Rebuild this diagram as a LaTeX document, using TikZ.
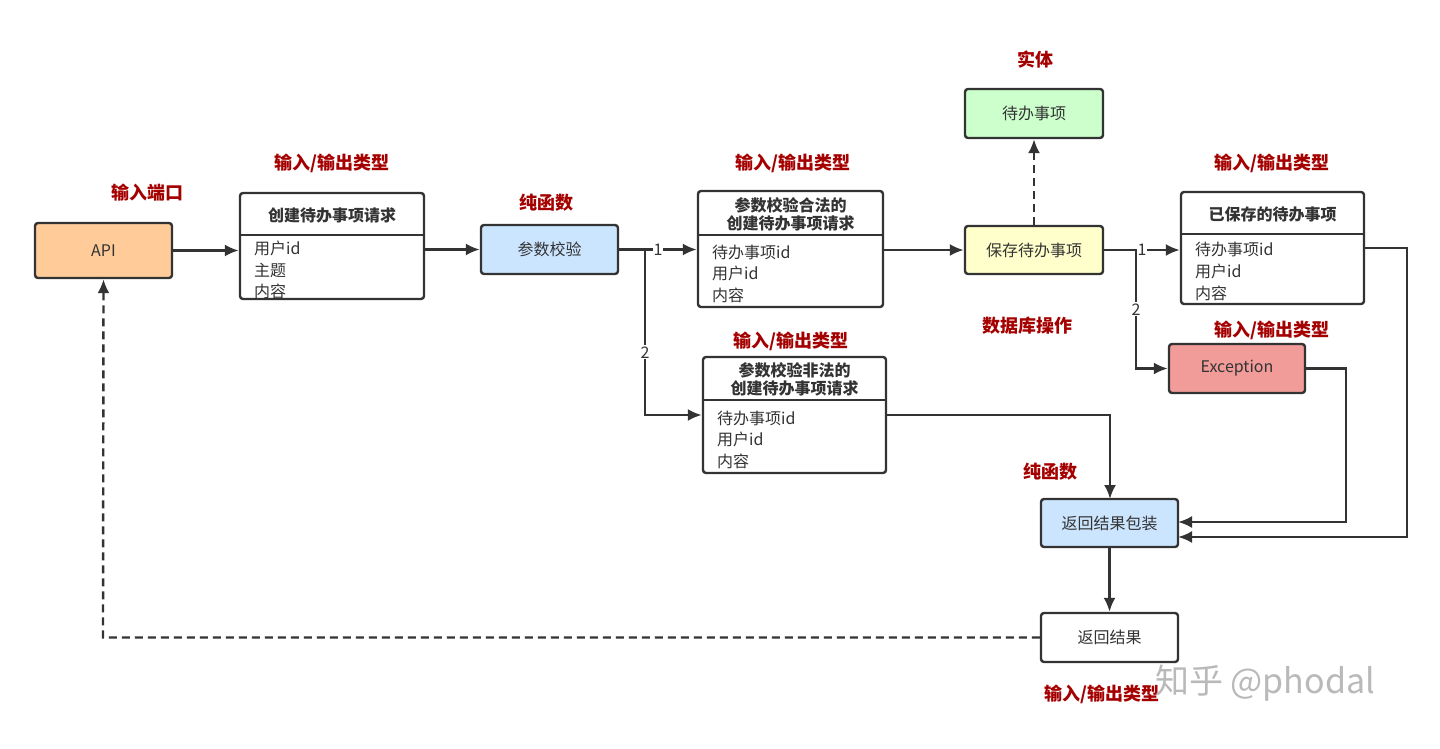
\documentclass[tikz,border=0pt]{standalone}
\usepackage{fontspec}
\setmainfont{Noto Sans CJK SC}
\usetikzlibrary{arrows.meta}
\definecolor{lab}{HTML}{A50000}
\definecolor{ln}{HTML}{333333}
\definecolor{corange}{HTML}{FFCC99}
\definecolor{cblue}{HTML}{CCE5FF}
\definecolor{cyellow}{HTML}{FFFFCC}
\definecolor{cgreen}{HTML}{CCFFCC}
\definecolor{cred}{HTML}{F19C99}
\begin{document}
\begin{tikzpicture}[x=1pt,y=-1pt,
 box/.style={draw=ln,line width=2.4pt,rounded corners=3pt,inner sep=0pt},
 t/.style={font=\fontsize{16}{19}\selectfont,text=ln},
 fld/.style={t,anchor=west,inner sep=0pt},
 lbl/.style={font=\fontsize{18}{21}\selectfont\bfseries,text=lab},
 arr/.style={draw=ln,line width=2.4pt,-{Latex[length=14pt,width=12pt]}},
 num/.style={font=\fontsize{16}{19}\selectfont,text=ln,fill=white,inner sep=1pt}]
\useasboundingbox (0,0) rectangle (1440,749);
% API
\node[box,fill=corange,minimum width=137pt,minimum height=55pt,t] (api) at (103.5,250.5) {API};
\node[lbl] at (147,193) {输入端口};
% box1
\node[box,fill=white,minimum width=184pt,minimum height=106pt] (b1) at (332,246) {};
\draw[ln,line width=2.4pt] (240,235) -- (424,235);
\node[t,font=\fontsize{16}{19}\selectfont\bfseries] at (332,215) {创建待办事项请求};
\node[fld] at (254,248) {用户id};
\node[fld] at (254,270) {主题};
\node[fld] at (254,291) {内容};
\node[lbl] at (332,163) {输入/输出类型};
% check
\node[box,fill=cblue,minimum width=137pt,minimum height=49pt,t] (chk) at (549.5,249.5) {参数校验};
\node[lbl] at (546,203) {纯函数};
% box2
\node[box,fill=white,minimum width=185pt,minimum height=116pt] (b2) at (790.5,249) {};
\draw[ln,line width=2.4pt] (698,235) -- (883,235);
\node[t,font=\fontsize{16}{18}\selectfont\bfseries,align=center] at (790.5,214) {参数校验合法的\\创建待办事项请求};
\node[fld] at (712,252) {待办事项id};
\node[fld] at (712,273) {用户id};
\node[fld] at (712,295) {内容};
\node[lbl] at (793,163) {输入/输出类型};
% box3
\node[box,fill=white,minimum width=183pt,minimum height=116pt] (b3) at (794.5,415) {};
\draw[ln,line width=2.4pt] (703,400) -- (886,400);
\node[t,font=\fontsize{16}{18}\selectfont\bfseries,align=center] at (794.5,379) {参数校验非法的\\创建待办事项请求};
\node[fld] at (717,418) {待办事项id};
\node[fld] at (717,439) {用户id};
\node[fld] at (717,461) {内容};
\node[lbl] at (791,341) {输入/输出类型};
% save
\node[box,fill=cyellow,minimum width=138pt,minimum height=48pt,t] (save) at (1034,250) {保存待办事项};
\node[lbl] at (1027,326) {数据库操作};
% entity
\node[box,fill=cgreen,minimum width=138pt,minimum height=49pt,t] (ent) at (1034,113.5) {待办事项};
\node[lbl] at (1035,60) {实体};
% box4
\node[box,fill=white,minimum width=183pt,minimum height=112pt] (b4) at (1272.5,248) {};
\draw[ln,line width=2.4pt] (1181,234) -- (1364,234);
\node[t,font=\fontsize{16}{19}\selectfont\bfseries] at (1272.5,214) {已保存的待办事项};
\node[fld] at (1195,249) {待办事项id};
\node[fld] at (1195,271) {用户id};
\node[fld] at (1195,293) {内容};
\node[lbl] at (1272,163) {输入/输出类型};
% exception
\node[box,fill=cred,minimum width=136pt,minimum height=49pt,t] (exc) at (1237,368.5) {Exception};
\node[lbl] at (1272,330) {输入/输出类型};
% wrap
\node[box,fill=cblue,minimum width=137pt,minimum height=48pt,t] (wrap) at (1109.5,523) {返回结果包装};
\node[lbl] at (1050,472) {纯函数};
% result
\node[box,fill=white,minimum width=137pt,minimum height=49pt,t] (res) at (1109.5,637.5) {返回结果};
\node[lbl] at (1102,694) {输入/输出类型};
\node[font=\fontsize{34}{38}\selectfont,text=gray!55] at (1265,683) {知乎 @phodal};
% connectors
\draw[arr] (api.east) -- (b1.west|-api.east);
\draw[arr] (b1.east|-chk.west) -- (chk.west);
\draw[arr] (chk.east) -- (b2.west|-chk.east) node[num,pos=0.5] {1};
\coordinate (s1) at (645,250);
\draw[arr] (s1) -- (645,415) node[num,pos=0.62] {2} -- (b3.west);
\draw[arr] (b2.east|-save.west) -- (save.west);
\draw[arr,dash pattern=on 8pt off 5pt] (save.north) -- (ent.south);
\draw[arr] (save.east) -- (b4.west|-save.east) node[num,pos=0.5] {1};
\coordinate (s2) at (1136,250);
\draw[arr] (s2) -- (1136,368.5) node[num,pos=0.5] {2} -- (exc.west);
\draw[arr] (b3.east) -- (1110,415) -- (1110,499);
\draw[arr] (exc.east) -- (1346,368.5) -- (1346,522) -- (1178,522);
\draw[arr] (b4.east) -- (1407,248) -- (1407,537) -- (1178,537);
\draw[arr] (wrap.south) -- (res.north);
\draw[arr,dash pattern=on 8pt off 5pt] (res.west) -- (103,637.5) -- (api.south);
\end{tikzpicture}
\end{document}
